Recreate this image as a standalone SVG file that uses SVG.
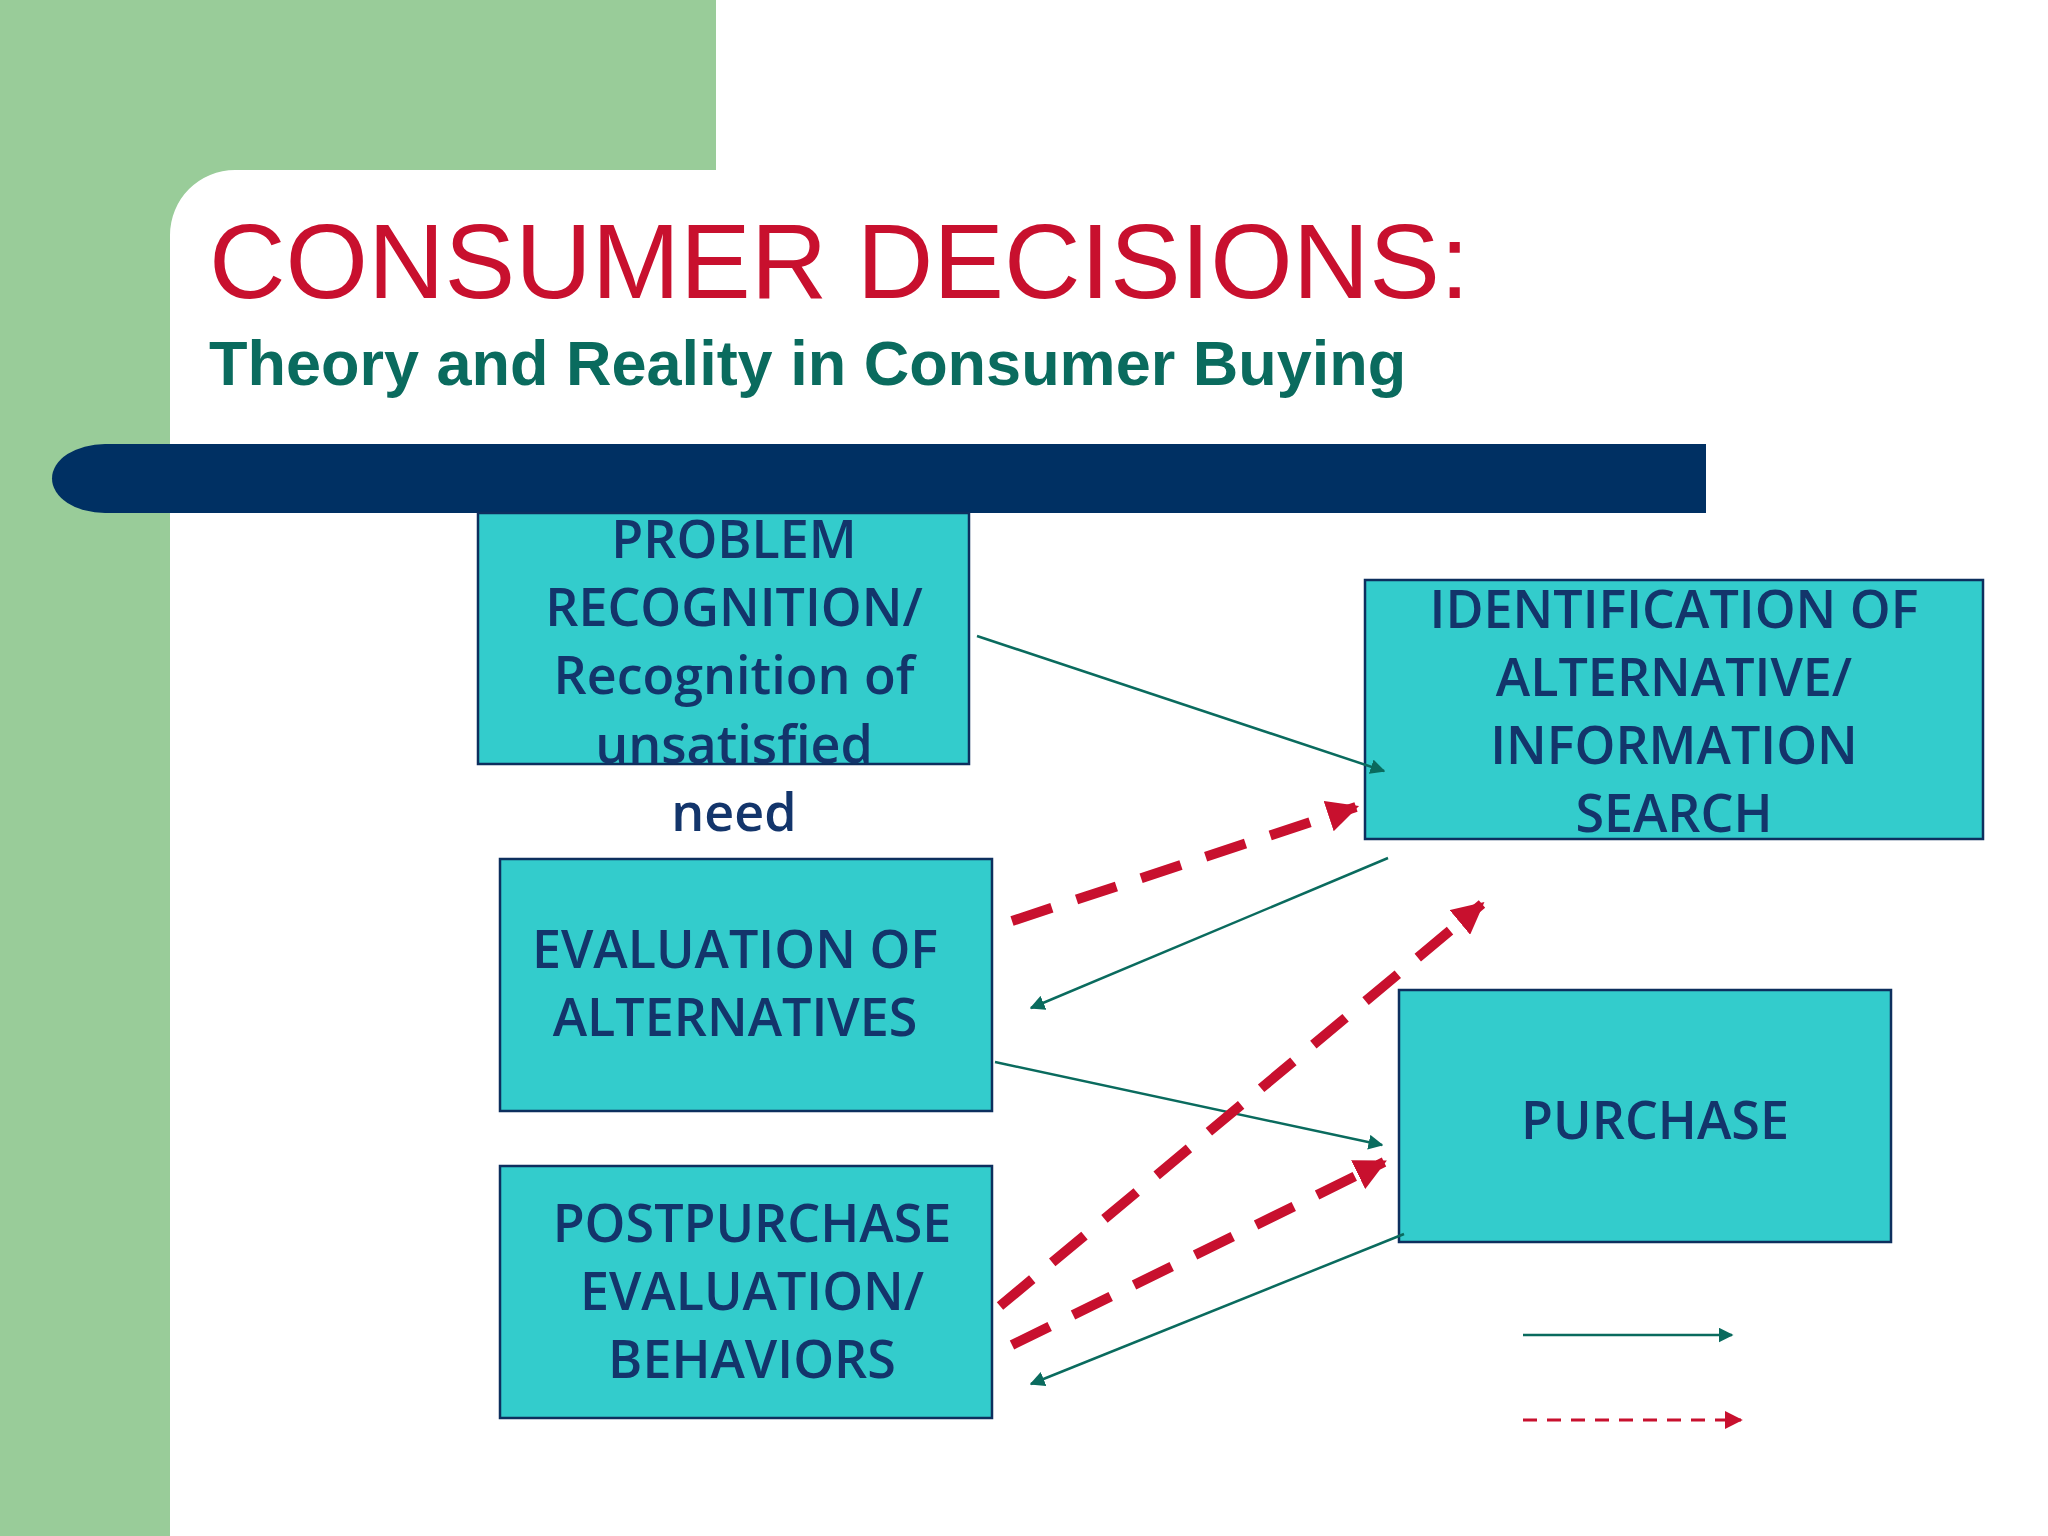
<svg xmlns="http://www.w3.org/2000/svg" width="2048" height="1536" viewBox="0 0 2048 1536">
<style>
.box{fill:#33cccc;stroke:#0d2f5e;stroke-width:2.5}
.bt{font-family:"Open Sans","DejaVu Sans",sans-serif;font-weight:600;font-size:52px;fill:#13356b;text-anchor:middle}
.sol{stroke:#0a6b5e;stroke-width:2.5;fill:none}
.dash{stroke:#c8102e;stroke-width:10;stroke-dasharray:42 26;fill:none}
</style>
<defs>
<marker id="ah" viewBox="0 0 10 10" refX="9" refY="5" markerWidth="6" markerHeight="6" orient="auto" markerUnits="strokeWidth"><path d="M0,0L10,5L0,10z" fill="#0a6b5e"/></marker>
<marker id="rh" viewBox="0 0 10 10" refX="9" refY="5" markerWidth="3.2" markerHeight="3.2" orient="auto" markerUnits="strokeWidth"><path d="M0,0L10,5L0,10z" fill="#c8102e"/></marker>
<marker id="rhs" viewBox="0 0 10 10" refX="9" refY="5" markerWidth="6" markerHeight="6" orient="auto" markerUnits="strokeWidth"><path d="M0,0L10,5L0,10z" fill="#c8102e"/></marker>
</defs>
<rect width="2048" height="1536" fill="#ffffff"/>
<rect x="0" y="0" width="716" height="170" fill="#99cc99"/>
<rect x="0" y="0" width="170" height="1536" fill="#99cc99"/>
<path d="M716,0V170H235A65,65 0 0 0 170,235V1536H0V0Z" fill="#99cc99"/>
<text x="209" y="298" font-family="Liberation Sans,Arial,sans-serif" font-size="106" fill="#c8102e">CONSUMER DECISIONS:</text>
<text x="209" y="385" font-family="Liberation Sans,Arial,sans-serif" font-weight="bold" font-size="63" fill="#0a6b5e">Theory and Reality in Consumer Buying</text>
<path d="M105,444H1706V513H105A53,34.5 0 0 1 105,444Z" fill="#003063"/>
<g id="problem"><rect class="box" x="478" y="513" width="491" height="251"/>
<text class="bt" x="734" y="558">PROBLEM</text><text class="bt" x="734" y="626">RECOGNITION/</text><text class="bt" x="734" y="694">Recognition of</text><text class="bt" x="734" y="763">unsatisfied</text><text class="bt" x="734" y="831">need</text></g>
<g id="identification"><rect class="box" x="1365" y="580" width="618" height="259"/>
<text class="bt" x="1674" y="628">IDENTIFICATION OF</text><text class="bt" x="1674" y="696">ALTERNATIVE/</text><text class="bt" x="1674" y="764">INFORMATION</text><text class="bt" x="1674" y="832">SEARCH</text></g>
<g id="evaluation"><rect class="box" x="500" y="859" width="492" height="252"/>
<text class="bt" x="735" y="968">EVALUATION OF</text><text class="bt" x="735" y="1036">ALTERNATIVES</text></g>
<g id="postpurchase"><rect class="box" x="500" y="1166" width="492" height="252"/>
<text class="bt" x="752" y="1242">POSTPURCHASE</text><text class="bt" x="752" y="1310">EVALUATION/</text><text class="bt" x="752" y="1378">BEHAVIORS</text></g>
<g id="purchase"><rect class="box" x="1399" y="990" width="492" height="252"/>
<text class="bt" x="1655" y="1139">PURCHASE</text></g>
<g id="connectors">
<line class="sol" x1="977" y1="636" x2="1384" y2="771" marker-end="url(#ah)"/>
<line class="sol" x1="1388" y1="858" x2="1031" y2="1008" marker-end="url(#ah)"/>
<line class="sol" x1="995" y1="1062" x2="1382" y2="1145" marker-end="url(#ah)"/>
<line class="sol" x1="1404" y1="1234" x2="1031" y2="1384" marker-end="url(#ah)"/>
<line class="sol" x1="1523" y1="1335" x2="1732" y2="1335" stroke-width="3.5" marker-end="url(#ah)"/>
<line class="dash" x1="1012" y1="921" x2="1356" y2="807" marker-end="url(#rh)"/>
<line class="dash" x1="1000" y1="1306" x2="1482" y2="904" marker-end="url(#rh)"/>
<line class="dash" x1="1012" y1="1345" x2="1384" y2="1162" marker-end="url(#rh)"/>
<line x1="1523" y1="1420" x2="1741" y2="1420" stroke="#c8102e" stroke-width="3" stroke-dasharray="14 10" marker-end="url(#rhs)"/>
</g>
</svg>
